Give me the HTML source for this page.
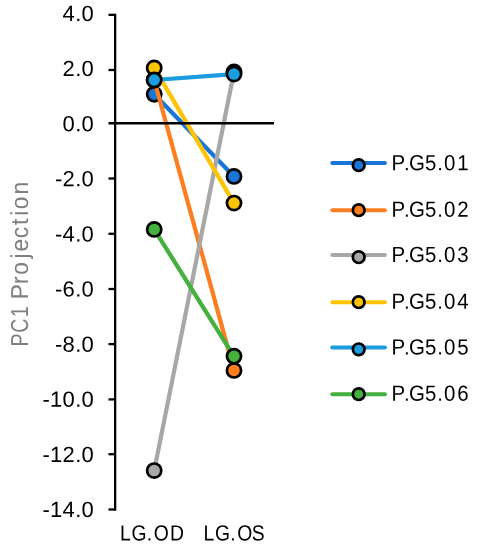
<!DOCTYPE html>
<html lang="en">
<head>
<meta charset="utf-8">
<title>PC1 Projection</title>
<style>
html,body{margin:0;padding:0;background:#fff;}
body{width:477px;height:550px;overflow:hidden;}
svg{display:block;}
text{font-family:"Liberation Sans",sans-serif;text-rendering:geometricPrecision;}
.tick{font-size:22px;fill:#000;text-anchor:end;letter-spacing:0.3px;}
.cat{font-size:22px;fill:#000;}
.leg{font-size:22px;fill:#000;}
.title{font-size:24.5px;fill:#7f7f7f;}
</style>
</head>
<body>
<svg width="477" height="550" viewBox="0 0 477 550">
<rect width="477" height="550" fill="#ffffff"/>

<g fill="none" stroke-linecap="round">
<line x1="154.2" y1="94.3" x2="234.0" y2="176.4" stroke="#1976D6" stroke-width="4.25"/>
<circle cx="154.2" cy="94.3" r="7.1" fill="#1976D6" stroke="#000" stroke-width="2.7"/>
<circle cx="234.0" cy="176.4" r="7.1" fill="#1976D6" stroke="#000" stroke-width="2.7"/>
<line x1="154.2" y1="80.0" x2="234.0" y2="370.4" stroke="#FC7E20" stroke-width="4.25"/>
<circle cx="154.2" cy="80.0" r="7.1" fill="#FC7E20" stroke="#000" stroke-width="2.7"/>
<circle cx="234.0" cy="370.4" r="7.1" fill="#FC7E20" stroke="#000" stroke-width="2.7"/>
<line x1="154.2" y1="470.6" x2="234.0" y2="72.0" stroke="#A7A7A7" stroke-width="4.25"/>
<circle cx="154.2" cy="470.6" r="7.1" fill="#A7A7A7" stroke="#000" stroke-width="2.7"/>
<circle cx="234.0" cy="72.0" r="7.1" fill="#A7A7A7" stroke="#000" stroke-width="2.7"/>
<line x1="154.2" y1="67.9" x2="234.0" y2="203.1" stroke="#FEC305" stroke-width="4.25"/>
<circle cx="154.2" cy="67.9" r="7.1" fill="#FEC305" stroke="#000" stroke-width="2.7"/>
<circle cx="234.0" cy="203.1" r="7.1" fill="#FEC305" stroke="#000" stroke-width="2.7"/>
<line x1="154.2" y1="80.0" x2="234.0" y2="74.1" stroke="#1A9CDF" stroke-width="4.25"/>
<circle cx="154.2" cy="80.0" r="7.1" fill="#1A9CDF" stroke="#000" stroke-width="2.7"/>
<circle cx="234.0" cy="74.1" r="7.1" fill="#1A9CDF" stroke="#000" stroke-width="2.7"/>
<line x1="154.2" y1="229.4" x2="234.0" y2="356.3" stroke="#44B13D" stroke-width="4.25"/>
<circle cx="154.2" cy="229.4" r="7.1" fill="#44B13D" stroke="#000" stroke-width="2.7"/>
<circle cx="234.0" cy="356.3" r="7.1" fill="#44B13D" stroke="#000" stroke-width="2.7"/>
</g>
<g stroke="#000" stroke-width="2.3" fill="none" stroke-linecap="butt">
<line x1="115.15" y1="13.7" x2="115.15" y2="510.65"/>
<line x1="108.5" y1="14.85" x2="115.15" y2="14.85"/>
<line x1="108.5" y1="70.0" x2="115.15" y2="70.0"/>
<line x1="108.5" y1="123.2" x2="274" y2="123.2" stroke-width="2.5"/>
<line x1="108.5" y1="178.5" x2="115.15" y2="178.5"/>
<line x1="108.5" y1="233.8" x2="115.15" y2="233.8"/>
<line x1="108.5" y1="289.0" x2="115.15" y2="289.0"/>
<line x1="108.5" y1="344.1" x2="115.15" y2="344.1"/>
<line x1="108.5" y1="399.4" x2="115.15" y2="399.4"/>
<line x1="108.5" y1="454.2" x2="115.15" y2="454.2"/>
<line x1="108.5" y1="509.5" x2="115.15" y2="509.5"/>
</g>
<text class="tick" transform="translate(94.1,21.00) rotate(0.03)">4.0</text>
<text class="tick" transform="translate(94.1,76.12) rotate(0.03)">2.0</text>
<text class="tick" transform="translate(94.1,131.24) rotate(0.03)">0.0</text>
<text class="tick" transform="translate(94.1,186.36) rotate(0.03)">-2.0</text>
<text class="tick" transform="translate(94.1,241.48) rotate(0.03)">-4.0</text>
<text class="tick" transform="translate(94.1,296.60) rotate(0.03)">-6.0</text>
<text class="tick" transform="translate(94.1,351.72) rotate(0.03)">-8.0</text>
<text class="tick" transform="translate(94.1,406.84) rotate(0.03)">-10.0</text>
<text class="tick" transform="translate(94.1,461.96) rotate(0.03)">-12.0</text>
<text class="tick" transform="translate(94.1,517.08) rotate(0.03)">-14.0</text>
<text class="cat" transform="translate(120,540.4) scale(0.88,1) rotate(0.03)" x="-0.00 13.02 30.54 38.39 56.83">LG.OD</text>
<text class="cat" transform="translate(203,540.4) scale(0.88,1) rotate(0.03)" x="0.51 13.53 31.05 38.90 55.46">LG.OS</text>
<text class="title" transform="translate(28.1,0) rotate(-90) scale(0.8,1)" x="-433.16 -415.94 -396.44">PC1</text>
<text class="title" transform="translate(28.1,0) rotate(-90) scale(0.93,1)" x="-321.83 -305.36 -295.45 -278.01 -270.50 -256.17 -241.85 -231.99 -225.02 -209.23">Projection</text>
<line x1="332.3" y1="162.95" x2="384.9" y2="162.95" stroke="#1976D6" stroke-width="4.0" stroke-linecap="round"/>
<circle cx="358.7" cy="165.15" r="5.85" fill="#1976D6" stroke="#000" stroke-width="2.7"/>
<text class="leg" transform="translate(391.5,170.25) scale(0.93,1) rotate(0.03)" x="0.02 13.42 18.90 36.01 49.17 56.58 70.79">P.G5.01</text>
<line x1="332.3" y1="210.15" x2="384.9" y2="210.15" stroke="#FC7E20" stroke-width="4.0" stroke-linecap="round"/>
<circle cx="358.7" cy="210.15" r="5.85" fill="#FC7E20" stroke="#000" stroke-width="2.7"/>
<text class="leg" transform="translate(391.5,216.75) scale(0.93,1) rotate(0.03)" x="0.02 13.42 18.90 36.01 49.17 56.58 70.79">P.G5.02</text>
<line x1="332.3" y1="255.05" x2="384.9" y2="255.05" stroke="#A7A7A7" stroke-width="4.0" stroke-linecap="round"/>
<circle cx="358.7" cy="257.15" r="5.85" fill="#A7A7A7" stroke="#000" stroke-width="2.7"/>
<text class="leg" transform="translate(391.5,262.05) scale(0.93,1) rotate(0.03)" x="0.02 13.42 18.90 36.01 49.17 56.58 70.79">P.G5.03</text>
<line x1="332.3" y1="302.15" x2="384.9" y2="302.15" stroke="#FEC305" stroke-width="4.0" stroke-linecap="round"/>
<circle cx="358.7" cy="302.15" r="5.85" fill="#FEC305" stroke="#000" stroke-width="2.7"/>
<text class="leg" transform="translate(391.5,308.75) scale(0.93,1) rotate(0.03)" x="0.02 13.42 18.90 36.01 49.17 56.58 70.79">P.G5.04</text>
<line x1="332.3" y1="347.45" x2="384.9" y2="347.45" stroke="#1A9CDF" stroke-width="4.0" stroke-linecap="round"/>
<circle cx="358.7" cy="349.35" r="5.85" fill="#1A9CDF" stroke="#000" stroke-width="2.7"/>
<text class="leg" transform="translate(391.5,354.55) scale(0.93,1) rotate(0.03)" x="0.02 13.42 18.90 36.01 49.17 56.58 70.79">P.G5.05</text>
<line x1="332.3" y1="394.25" x2="384.9" y2="394.25" stroke="#44B13D" stroke-width="4.0" stroke-linecap="round"/>
<circle cx="358.7" cy="394.15" r="5.85" fill="#44B13D" stroke="#000" stroke-width="2.7"/>
<text class="leg" transform="translate(391.5,400.65) scale(0.93,1) rotate(0.03)" x="0.02 13.42 18.90 36.01 49.17 56.58 70.79">P.G5.06</text>
</svg>
</body>
</html>
